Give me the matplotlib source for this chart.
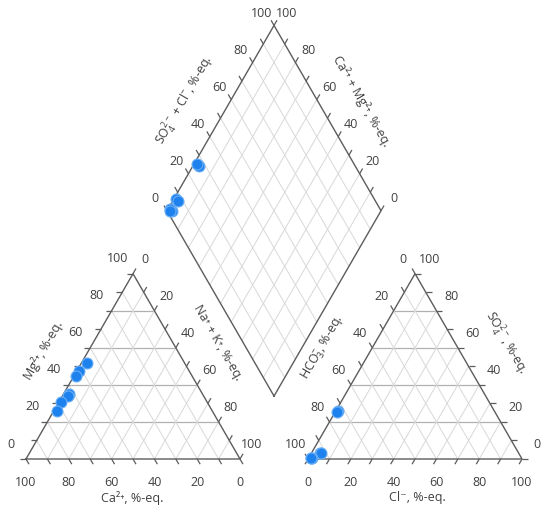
import numpy as np
import matplotlib
matplotlib.use('Agg')
import matplotlib.pyplot as plt

plt.rcParams['font.family'] = ['Open Sans', 'DejaVu Sans']
plt.rcParams['mathtext.fontset'] = 'custom'
plt.rcParams['mathtext.rm'] = 'Open Sans'
plt.rcParams['mathtext.it'] = 'Open Sans:italic'
plt.rcParams['mathtext.bf'] = 'Open Sans:bold'

# ---------------- data (% eq.) ----------------
samples = ['S1', 'S2', 'S3', 'S4', 'S5', 'S6', 'S7']
ca = [45.5, 51.3, 54.2, 62.2, 63.4, 68.3, 72.3]
mg = [51.6, 47.5, 44.8, 35.1, 34.2, 30.6, 26.1]
nak = [2.9, 1.2, 1.0, 2.7, 2.4, 1.1, 1.6]
hco3 = [73.0, 73.5, 92.5, 92.0, 98.0, 98.2, 98.4]
cl = [1.0, 1.0, 4.0, 4.5, 1.5, 1.4, 1.2]
so4 = [26.0, 25.5, 3.5, 3.5, 0.5, 0.4, 0.4]
tick_values = [0, 20, 40, 60, 80, 100]

# ---------------- geometry ----------------
S3 = np.sqrt(3) / 2
GAP = 0.318
XR = 1 + GAP              # origin of anion triangle
BX, BY = 1 + GAP / 2, 0.294  # bottom vertex of diamond
PX = 214.0                # pixels per unit

EDGE = '#5c5c5c'
HGRID = '#b0b0b0'
DGRID = '#d8d8d8'
TXT = '#404040'
FS = 9
TL = 0.028

fig = plt.figure(figsize=(5.5, 5.15), dpi=100)
ax = fig.add_axes([0, 0, 1, 1])
ax.set_xlim(-26 / PX, (550 - 26) / PX)
ax.set_ylim((459 - 515) / PX, 459 / PX)
ax.axis('off')


def line(p, q, color, lw, z=1):
    ax.plot([p[0], q[0]], [p[1], q[1]], color=color, lw=lw, zorder=z,
            solid_capstyle='butt')


def triangle(x0):
    # horizontal lines every 20 %
    for m in np.arange(0.2, 0.99, 0.2):
        line((x0 + 0.5 * m, S3 * m), (x0 + 1 - 0.5 * m, S3 * m), HGRID, 0.9)
    # diagonal lines every 10 %
    for k in np.arange(0.1, 0.99, 0.1):
        line((x0 + 1 - k, 0), (x0 + 0.5 * (1 - k), S3 * (1 - k)), DGRID, 0.7)
        line((x0 + k, 0), (x0 + k + 0.5 * (1 - k), S3 * (1 - k)), DGRID, 0.7)
    ax.plot([x0, x0 + 1, x0 + 0.5, x0], [0, 0, S3, 0], color=EDGE, lw=1.0,
            zorder=2)


triangle(0)
triangle(XR)


def dpt(c, b):
    return BX + 0.5 * (b - c), BY + S3 * (b + c)


# diamond grid
for k in np.arange(0.1, 0.99, 0.1):
    line(dpt(k, 0), dpt(k, 1), DGRID, 0.7)
    line(dpt(0, k), dpt(1, k), DGRID, 0.7)
dv = [dpt(0, 0), dpt(1, 0), dpt(1, 1), dpt(0, 1), dpt(0, 0)]
ax.plot([p[0] for p in dv], [p[1] for p in dv], color=EDGE, lw=1.0, zorder=2)

# ---------------- ticks & labels ----------------
fr = np.arange(0, 1.001, 0.1)


def ticks(points, d):
    for (x, y) in points:
        line((x, y), (x + d[0] * TL, y + d[1] * TL), EDGE, 0.9, 2)


def labels(points, vals, off):
    for (x, y), v in zip(points, vals):
        ax.text(x + off[0] / PX, y + off[1] / PX, f'{v:g}', ha='center',
                va='center', fontsize=FS, color=TXT)


tv = np.array(tick_values) / 100.0
# cation triangle
ticks([(1 - k, 0) for k in fr], (0.5, -S3))
ticks([(0.5 * m, S3 * m) for m in fr], (-1, 0))
ticks([(n + 0.5 * (1 - n), S3 * (1 - n)) for n in fr], (0.5, S3))
labels([(1 - k, 0) for k in tv], tick_values, (0, -23))
labels([(0.5 * m, S3 * m) for m in tv], tick_values, (-15, 15))
labels([(n + 0.5 * (1 - n), S3 * (1 - n)) for n in tv], tick_values, (12, 14))
# anion triangle
ticks([(XR + n, 0) for n in fr], (-0.5, -S3))
ticks([(XR + 0.5 * (1 - k), S3 * (1 - k)) for k in fr], (-0.5, S3))
ticks([(XR + 1 - 0.5 * s, S3 * s) for s in fr], (1, 0))
labels([(XR + n, 0) for n in tv], tick_values, (0, -23))
labels([(XR + 0.5 * (1 - k), S3 * (1 - k)) for k in tv], tick_values, (-12, 14))
labels([(XR + 1 - 0.5 * s, S3 * s) for s in tv], tick_values, (15, 14))
# diamond
ticks([dpt(1, b) for b in fr], (-0.5, S3))
ticks([dpt(c, 1) for c in fr], (0.5, S3))
labels([dpt(1, b) for b in tv], tick_values, (-12, 12))
labels([dpt(c, 1) for c in tv], tick_values, (13, 12))

# ---------------- axis titles ----------------
def title(px, py, s, rot):
    ax.text((px - 26) / PX, (459 - py) / PX, s, ha='center', va='center',
            rotation=rot, rotation_mode='anchor', fontsize=FS, color=TXT)


title(132, 498, 'Ca\u00b2\u207a, %-eq.', 0)
title(43, 350, 'Mg\u00b2\u207a, %-eq.', 60)
title(218, 343, 'Na\u207a + K\u207a, %-eq.', -60)
title(417, 498, 'Cl\u207b, %-eq.', 0)
title(323, 348, r'HCO$_3^{-}$, %-eq.', 60)
title(505, 343, r'SO$_4^{2-}$, %-eq.', -60)
title(185, 101, r'SO$_4^{2-}$ + Cl$^{-}$, %-eq.', 60)
title(362, 101, 'Ca\u00b2\u207a + Mg\u00b2\u207a, %-eq.', -60)

# ---------------- data points ----------------
ca_a, mg_a, nak_a = np.array(ca), np.array(mg), np.array(nak)
hco3_a, cl_a, so4_a = np.array(hco3), np.array(cl), np.array(so4)
tc = ca_a + mg_a + nak_a
ta = hco3_a + cl_a + so4_a
fmg, fnak = mg_a / tc, nak_a / tc
fso4, fcl = so4_a / ta, cl_a / ta

cx = fnak + 0.5 * fmg
cy = S3 * fmg
axx = XR + fcl + 0.5 * fso4
ayy = S3 * fso4
cc = (ca_a + mg_a) / tc
bb = (cl_a + so4_a) / ta
dx = BX + 0.5 * (bb - cc)
dy = BY + S3 * (bb + cc)

kw = dict(s=62, c='#1e82ee', edgecolors='#6aaef5', linewidths=0.8, zorder=5)
ax.scatter(cx, cy, **kw)
ax.scatter(axx, ayy, **kw)
ax.scatter(dx, dy, **kw)

fig.savefig('out.png', dpi=100)
